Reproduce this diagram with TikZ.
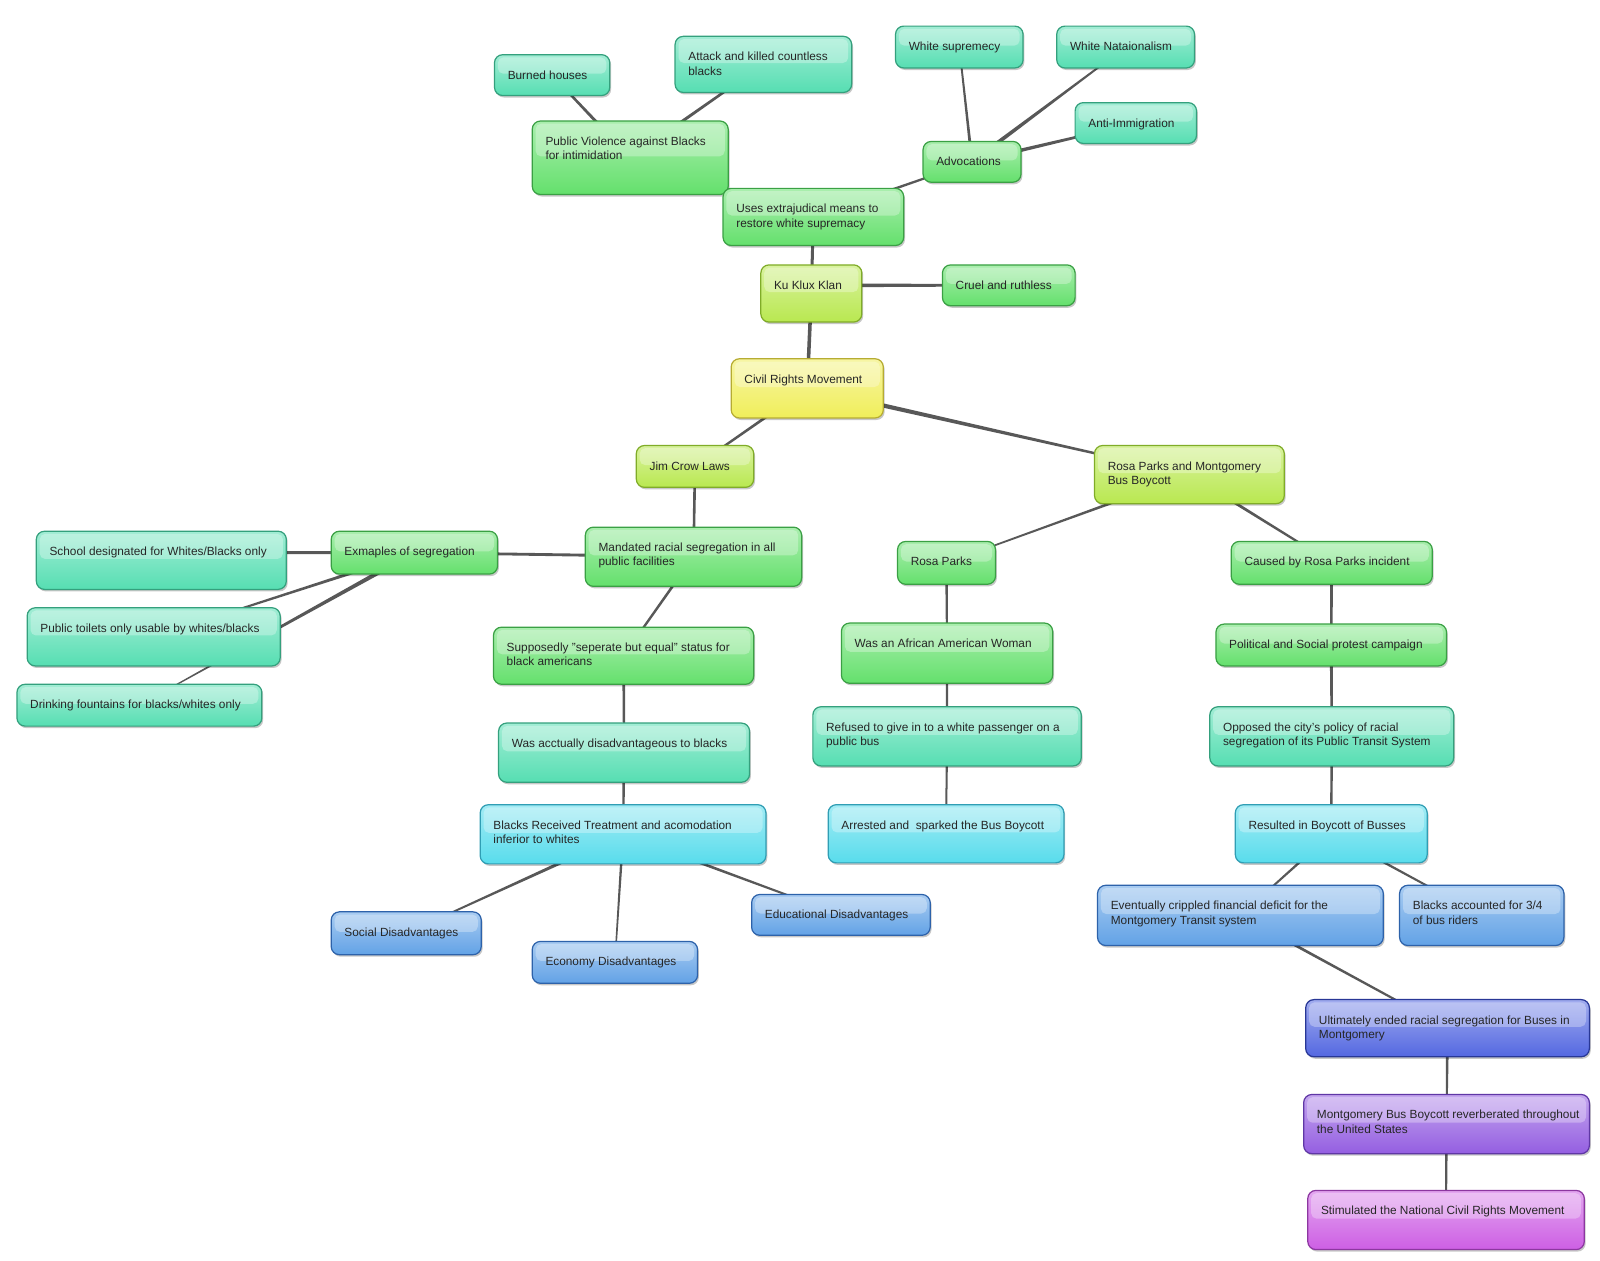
\documentclass[tikz,border=0pt]{standalone}
\usepackage{fontspec}
\setmainfont{Liberation Sans}
\usetikzlibrary{calc,shadows}
\newdimen\unitpx \unitpx=0.75pt
\definecolor{txtc}{RGB}{38,38,38}
\definecolor{edgec}{RGB}{88,88,88}
\definecolor{cTeal}{RGB}{86,222,178}   \definecolor{cTealD}{RGB}{52,160,125}
\definecolor{cGreen}{RGB}{100,224,108} \definecolor{cGreenD}{RGB}{58,160,68}
\definecolor{cLime}{RGB}{185,232,80}   \definecolor{cLimeD}{RGB}{128,172,40}
\definecolor{cYellow}{RGB}{240,238,90} \definecolor{cYellowD}{RGB}{182,172,50}
\definecolor{cCyan}{RGB}{88,220,236}   \definecolor{cCyanD}{RGB}{48,158,180}
\definecolor{cBlue}{RGB}{98,162,230}   \definecolor{cBlueD}{RGB}{45,98,170}
\definecolor{cIndigo}{RGB}{84,104,225} \definecolor{cIndigoD}{RGB}{40,55,150}
\definecolor{cPurple}{RGB}{148,94,225} \definecolor{cPurpleD}{RGB}{95,55,165}
\definecolor{cMagenta}{RGB}{205,95,228} \definecolor{cMagentaD}{RGB}{140,55,160}
\pgfdeclarelayer{bg}
\pgfsetlayers{bg,main}
\tikzset{
  box/.style={rounded corners=6pt, draw=#1D, line width=0.9pt,
    top color=#1!55!white, bottom color=#1,
    drop shadow={shadow xshift=1pt, shadow yshift=-1.5pt, opacity=0.22, fill=black},
    path picture={\fill[white, draw=none, opacity=0.3, rounded corners=4pt]
      ([xshift=2.5pt,yshift=-2pt]path picture bounding box.north west) rectangle
      ([xshift=-2.5pt,yshift=1pt]path picture bounding box.east);},
    inner sep=0pt, anchor=north west, text=txtc},
  conn/.style={fill=edgec, draw=none}
}
\newcommand\bx[7]{\node[box=#6] (#1) at (#2,#3) {\parbox[t][\dimexpr\unitpx*(#5-#3)\relax][t]{\dimexpr\unitpx*(#4-#2)\relax}{\fontsize{8.7pt}{10.5pt}\selectfont\raggedright\leftskip=13\unitpx\rule{0pt}{24\unitpx}#7}};}
\newcommand\cn[4]{\fill[conn] ($(#1.center)!#3!90:(#2.center)$) -- ($(#2.center)!#4!-90:(#1.center)$) -- ($(#2.center)!#4!90:(#1.center)$) -- ($(#1.center)!#3!-90:(#2.center)$) -- cycle;}
\begin{document}
\begin{tikzpicture}[x=0.75pt,y=-0.75pt]
\useasboundingbox (0,0) rectangle (1568,1235);
\begin{pgfonlayer}{bg}
\fill[white] (0,0) rectangle (1568,1235);
\end{pgfonlayer}
\bx{burn}{484}{53}{597}{93}{cTeal}{Burned houses}
\bx{attack}{661}{35}{834}{90}{cTeal}{Attack and killed countless\\blacks}
\bx{pv}{521}{118}{713}{190}{cGreen}{Public Violence against Blacks\\for intimidation}
\bx{uses}{708}{184}{885}{240}{cGreen}{Uses extrajudical means to\\restore white supremacy}
\bx{ws}{877}{25}{1002}{66}{cTeal}{White supremecy}
\bx{wn}{1035}{25}{1170}{66}{cTeal}{White Nataionalism}
\bx{ai}{1053}{100}{1172}{140}{cTeal}{Anti-Immigration}
\bx{adv}{904}{138}{1000}{178}{cGreen}{Advocations}
\bx{kkk}{745}{259}{844}{315}{cLime}{Ku Klux Klan}
\bx{cruel}{923}{259}{1053}{299}{cGreen}{Cruel and ruthless}
\bx{crm}{716}{351}{865}{409}{cYellow}{Civil Rights Movement}
\bx{jc}{623}{436}{738}{477}{cLime}{Jim Crow Laws}
\bx{rp}{1072}{436}{1258}{493}{cLime}{Rosa Parks and Montgomery\\Bus Boycott}
\bx{mand}{573}{516}{785}{574}{cGreen}{Mandated racial segregation in all\\public facilities}
\bx{ex}{324}{520}{487}{562}{cGreen}{Exmaples of segregation}
\bx{school}{35}{520}{280}{577}{cTeal}{School designated for Whites/Blacks only}
\bx{toilet}{26}{595}{274}{652}{cTeal}{Public toilets only usable by whites/blacks}
\bx{drink}{16}{670}{256}{711}{cTeal}{Drinking fountains for blacks/whites only}
\bx{supp}{483}{614}{738}{670}{cGreen}{Supposedly "seperate but equal" status for\\black americans}
\bx{was}{488}{708}{734}{766}{cTeal}{Was acctually disadvantageous to blacks}
\bx{br}{470}{788}{750}{846}{cCyan}{Blacks Received Treatment and acomodation\\inferior to whites}
\bx{social}{324}{893}{471}{935}{cBlue}{Social Disadvantages}
\bx{econ}{521}{922}{683}{963}{cBlue}{Economy Disadvantages}
\bx{edu}{736}{876}{911}{916}{cBlue}{Educational Disadvantages}
\bx{rosa}{879}{530}{975}{572}{cGreen}{Rosa Parks}
\bx{aaw}{824}{610}{1031}{669}{cGreen}{Was an African American Woman}
\bx{refused}{796}{692}{1059}{750}{cTeal}{Refused to give in to a white passenger on a\\public bus}
\bx{arrest}{811}{788}{1042}{845}{cCyan}{Arrested and\ \ sparked the Bus Boycott}
\bx{caused}{1206}{530}{1403}{572}{cGreen}{Caused by Rosa Parks incident}
\bx{pol}{1191}{611}{1417}{652}{cGreen}{Political and Social protest campaign}
\bx{opp}{1185}{692}{1424}{750}{cTeal}{Opposed the city's policy of racial\\segregation of its Public Transit System}
\bx{res}{1210}{788}{1398}{845}{cCyan}{Resulted in Boycott of Busses}
\bx{ev}{1075}{867}{1355}{926}{cBlue}{Eventually crippled financial deficit for the\\Montgomery Transit system}
\bx{b34}{1371}{867}{1532}{926}{cBlue}{Blacks accounted for 3/4\\of bus riders}
\bx{ult}{1279}{979}{1557}{1035}{cIndigo}{Ultimately ended racial segregation for Buses in\\Montgomery}
\bx{mont}{1277}{1072}{1557}{1130}{cPurple}{Montgomery Bus Boycott reverberated throughout\\the United States}
\bx{stim}{1281}{1166}{1552}{1224}{cMagenta}{Stimulated the National Civil Rights Movement}
\coordinate (kkkR) at (kkk.center |- cruel.center);
\coordinate (schoolR) at (school.center |- ex.center);
\begin{pgfonlayer}{bg}
\cn{crm}{kkk}{1.3pt}{1.3pt}
\cn{kkk}{uses}{1.2pt}{1.0pt}
\cn{kkkR}{cruel}{1.5pt}{0.8pt}
\cn{uses}{pv}{1.3pt}{1.0pt}
\cn{uses}{adv}{1.1pt}{0.7pt}
\cn{pv}{burn}{1.3pt}{0.8pt}
\cn{pv}{attack}{1.3pt}{0.8pt}
\cn{adv}{ws}{1.1pt}{0.6pt}
\cn{adv}{wn}{1.6pt}{0.5pt}
\cn{adv}{ai}{1.5pt}{0.7pt}
\cn{crm}{jc}{1.1pt}{0.8pt}
\cn{crm}{rp}{1.8pt}{0.6pt}
\cn{jc}{mand}{1.0pt}{0.9pt}
\cn{mand}{ex}{1.1pt}{1.0pt}
\cn{mand}{supp}{1.0pt}{0.8pt}
\cn{ex}{schoolR}{1.2pt}{1.1pt}
\cn{ex}{toilet}{1.3pt}{0.5pt}
\cn{ex}{drink}{1.7pt}{0.3pt}
\cn{supp}{was}{1.0pt}{0.8pt}
\cn{was}{br}{1.0pt}{0.8pt}
\cn{br}{social}{1.4pt}{0.5pt}
\cn{br}{econ}{1.0pt}{0.5pt}
\cn{br}{edu}{1.2pt}{0.6pt}
\cn{rp}{rosa}{1.2pt}{0.5pt}
\cn{rp}{caused}{1.2pt}{0.7pt}
\cn{rosa}{aaw}{1.0pt}{0.7pt}
\cn{aaw}{refused}{0.9pt}{0.7pt}
\cn{refused}{arrest}{0.9pt}{0.6pt}
\cn{caused}{pol}{1.1pt}{0.8pt}
\cn{pol}{opp}{1.1pt}{0.8pt}
\cn{opp}{res}{1.0pt}{0.8pt}
\cn{res}{ev}{1.0pt}{0.6pt}
\cn{res}{b34}{1.0pt}{0.6pt}
\cn{ev}{ult}{1.1pt}{0.7pt}
\cn{ult}{mont}{1.1pt}{0.6pt}
\cn{mont}{stim}{1.0pt}{0.6pt}
\end{pgfonlayer}
\end{tikzpicture}
\end{document}
